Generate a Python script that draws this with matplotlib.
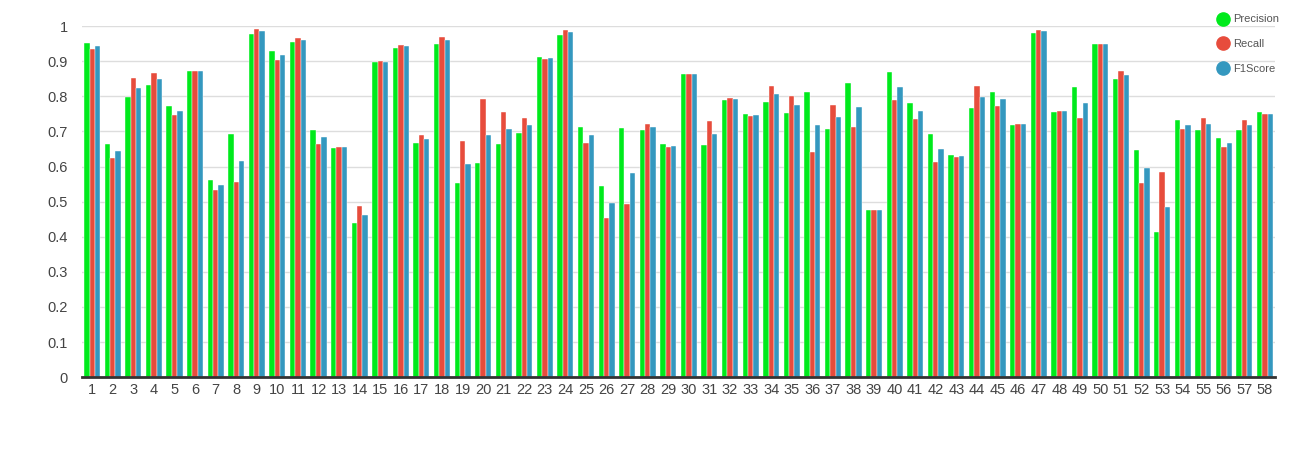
import numpy as np
import matplotlib
matplotlib.use("Agg")
from matplotlib import pyplot as plt
from matplotlib.lines import Line2D

plt.rcParams['font.family'] = ['Liberation Sans', 'DejaVu Sans']

labels = [str(i) for i in range(1, 59)]

precision = [0.951, 0.663, 0.799, 0.831, 0.771, 0.873, 0.561, 0.694, 0.978, 0.929,
             0.955, 0.705, 0.653, 0.440, 0.897, 0.937, 0.667, 0.948, 0.553, 0.610,
             0.665, 0.696, 0.911, 0.975, 0.713, 0.544, 0.710, 0.704, 0.664, 0.863,
             0.660, 0.789, 0.749, 0.783, 0.753, 0.813, 0.706, 0.837, 0.475, 0.869,
             0.782, 0.693, 0.634, 0.768, 0.812, 0.718, 0.981, 0.755, 0.827, 0.948,
             0.849, 0.647, 0.414, 0.733, 0.704, 0.681, 0.703, 0.754]
recall = [0.936, 0.624, 0.851, 0.865, 0.747, 0.873, 0.532, 0.555, 0.991, 0.904,
          0.967, 0.665, 0.656, 0.487, 0.900, 0.946, 0.690, 0.970, 0.672, 0.792,
          0.756, 0.739, 0.906, 0.989, 0.668, 0.454, 0.492, 0.722, 0.655, 0.863,
          0.729, 0.795, 0.745, 0.830, 0.801, 0.641, 0.775, 0.712, 0.477, 0.789,
          0.736, 0.613, 0.628, 0.828, 0.773, 0.720, 0.989, 0.759, 0.738, 0.948,
          0.873, 0.554, 0.583, 0.707, 0.738, 0.655, 0.732, 0.749]
f1score = [0.943, 0.643, 0.825, 0.848, 0.758, 0.873, 0.546, 0.617, 0.986, 0.917,
           0.961, 0.685, 0.655, 0.463, 0.898, 0.942, 0.679, 0.959, 0.607, 0.690,
           0.707, 0.718, 0.908, 0.983, 0.690, 0.495, 0.582, 0.713, 0.658, 0.863,
           0.693, 0.792, 0.747, 0.806, 0.776, 0.718, 0.740, 0.770, 0.476, 0.827,
           0.758, 0.651, 0.631, 0.797, 0.792, 0.720, 0.986, 0.757, 0.781, 0.948,
           0.862, 0.596, 0.484, 0.719, 0.720, 0.667, 0.717, 0.749]

series = [("Precision", precision, "#00ea1c"),
          ("Recall", recall, "#e74c3c"),
          ("F1Score", f1score, "#3498bf")]

fig = plt.figure(figsize=(13, 4.5), dpi=100)
ax = fig.add_axes([0.063, 0.162, 0.918, 0.780])

x = np.arange(len(labels))
w = 0.26
for k, (name, vals, col) in enumerate(series):
    ax.bar(x + (k - 1) * w, vals, width=w, color=col, edgecolor='white', linewidth=0.3, zorder=3)

ax.set_xlim(-0.5, len(labels) - 0.5)
ax.set_ylim(0, 1)
ax.set_yticks(np.arange(0, 1.01, 0.1))
ax.set_yticklabels(['0'] + ['%.1f' % v for v in np.arange(0.1, 0.95, 0.1)] + ['1'])
ax.set_xticks(x)
ax.set_xticklabels(labels)
ax.grid(axis='y', color='#dddddd', linewidth=1, zorder=0)
ax.tick_params(axis='both', length=0, labelsize=10.5, colors='#444444')
ax.tick_params(axis='y', pad=10)
ax.tick_params(axis='x', pad=4)
for s in ['left', 'right', 'top']:
    ax.spines[s].set_visible(False)
ax.spines['bottom'].set_color('#333333')
ax.spines['bottom'].set_linewidth(2)
ax.spines['bottom'].set_zorder(5)

# legend top right, round markers
handles = [Line2D([], [], marker='o', linestyle='none', markersize=9.5,
                  markerfacecolor=col, markeredgecolor=col, label=name)
           for name, vals, col in series]
fig.legend(handles=handles, loc='upper left', bbox_to_anchor=(1212 / 1300, 1 - 10 / 450),
           frameon=False, fontsize=8, labelcolor='#555555', handletextpad=0.3,
           labelspacing=1.32, handlelength=1.2, borderaxespad=0)

fig.savefig('out.png', dpi=100)
